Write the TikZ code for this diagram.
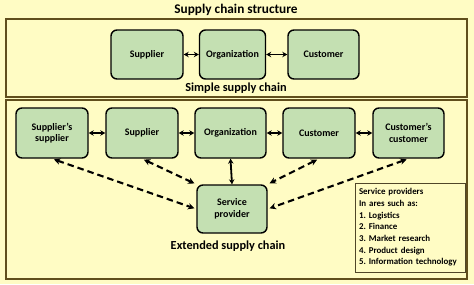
\documentclass[tikz,border=0pt]{standalone}
\usepackage{fontspec}
\setmainfont{Carlito}
\usetikzlibrary{arrows.meta}
\definecolor{bg}{RGB}{255,252,196}
\definecolor{framec}{RGB}{96,78,28}
\definecolor{boxg}{RGB}{196,224,178}
\definecolor{legc}{RGB}{80,70,40}
\frenchspacing
\begin{document}
\begin{tikzpicture}[x=1pt,y=-1pt,
  box/.style={draw=black, line width=1.4pt, fill=boxg, rounded corners=6pt,
    font=\bfseries\fontsize{10}{11.5}\selectfont, align=center, inner sep=0pt,
    minimum height=49pt},
  link/.style={line width=1.8pt, {Stealth[length=5pt,width=5.5pt]}-{Stealth[length=5pt,width=5.5pt]}},
  dlink/.style={line width=2.1pt, dash pattern=on 6.5pt off 4pt,
    {Stealth[length=6.5pt,width=6.5pt]}-{Stealth[length=6.5pt,width=6.5pt]}, shorten <=2pt, shorten >=2pt},
  lbl/.style={font=\bfseries\fontsize{12.3}{14}\selectfont},
  frm/.style={draw=framec, line width=1.6pt}]
\fill[bg] (0,0) rectangle (474,284);
\useasboundingbox (0,0) rectangle (474,284);
\node[lbl, font=\bfseries\fontsize{13.3}{15}\selectfont] (title) at (236,10) {Supply chain structure};
\draw[frm] (6,19) rectangle (467,97);
\draw[frm] (6,100) rectangle (467,279);
% simple chain
\node[box, minimum width=72pt] (a1) at (147,54.5) {Supplier};
\node[box, minimum width=66pt] (a2) at (232.5,54.5) {Organization};
\node[box, minimum width=71pt] (a3) at (323.5,54.5) {Customer};
\draw[link] (a1) -- (a2);
\draw[link] (a2) -- (a3);
\node[lbl] (simple) at (236,88) {Simple supply chain};
% extended chain
\node[box, minimum width=72pt, minimum height=50pt] (ss) at (52,133) {Supplier's\\supplier};
\node[box, minimum width=72pt, minimum height=50pt] (s) at (142,133) {Supplier};
\node[box, minimum width=71pt, minimum height=50pt] (o) at (230.5,133) {Organization};
\node[box, minimum width=72pt, minimum height=50pt] (c) at (319,133) {Customer};
\node[box, minimum width=71pt, minimum height=50pt] (cc) at (408.5,133) {Customer's\\customer};
\draw[link] (ss) -- (s);
\draw[link] (s) -- (o);
\draw[link] (o) -- (c);
\draw[link] (c) -- (cc);
\node[box, minimum width=70pt, minimum height=48pt] (sp) at (232,209) {Service\\provider};
\draw[link] (o.south) -- (sp.north);
\draw[dlink] (ss.south) -- (sp.west);
\draw[dlink] (s.south) -- (sp.north west);
\draw[dlink] (c.south) -- (sp.north east);
\draw[dlink] (cc.south) -- (sp.east);
\node[lbl] (ext) at (228,246) {Extended supply chain};
\node[draw=legc, line width=1pt, text width=102pt, inner xsep=4pt, minimum height=89pt,
  align=left, font=\bfseries\fontsize{8.9}{11.7}\selectfont] (leg) at (410,227.5)
  {Service providers\\In ares such as:\\1. Logistics\\2. Finance\\3. Market research\\4. Product design\\5. Information technology};
\end{tikzpicture}
\end{document}
